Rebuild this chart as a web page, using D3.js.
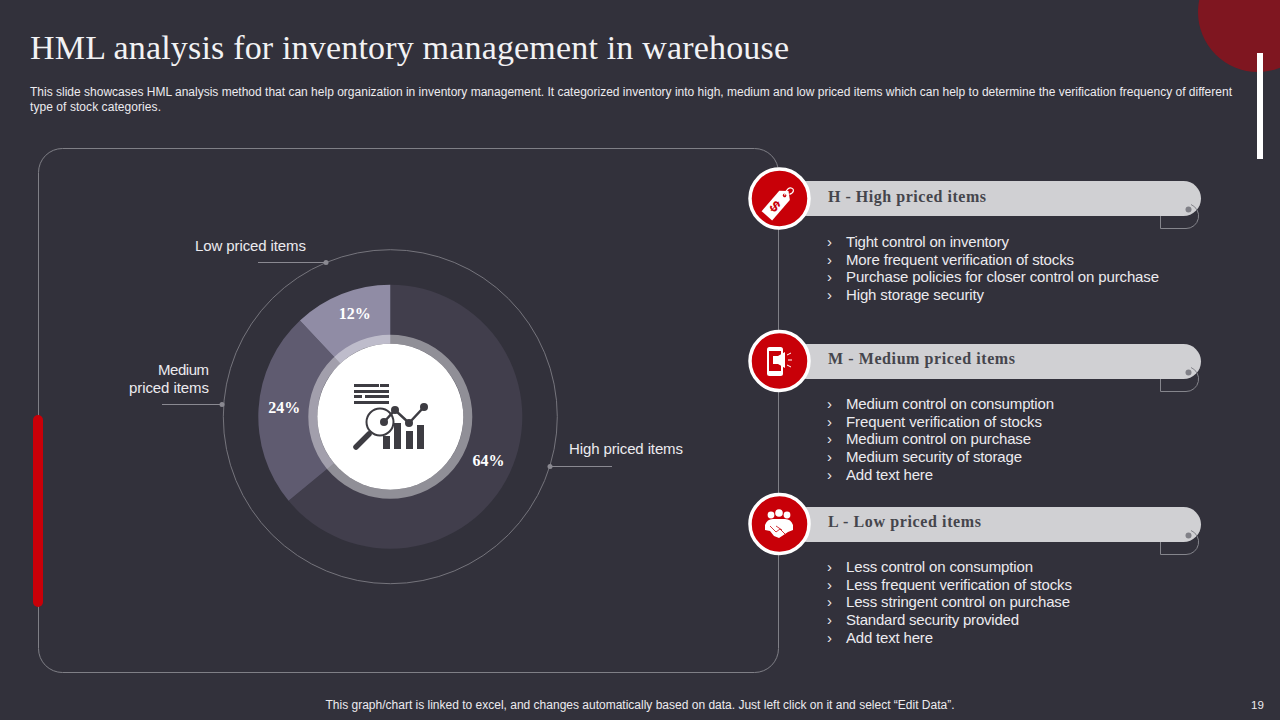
<!DOCTYPE html>
<html><head><meta charset="utf-8">
<style>html,body{margin:0;padding:0;background:#32313b;overflow:hidden}svg{display:block}</style>
<script src="https://cdn.jsdelivr.net/npm/d3@7"></script></head>
<body><svg id="c" width="1280" height="720"></svg>
<script>
const categories = ["High priced items", "Medium priced items", "Low priced items"];
const shareValues = [64, 24, 12];
const sliceColors = ["#413e4c", "#5f5b70", "#908ca5"];
const titleText = "HML analysis for inventory management in warehouse";
const descLines = [
  "This slide showcases HML analysis method that can help organization in inventory management. It categorized inventory into high, medium and low priced items which can help to determine the verification frequency of different",
  "type of stock categories."
];
const footerText = "This graph/chart is linked to excel, and changes automatically based on data. Just left click on it and select \u201cEdit Data\u201d.";
const pageNumber = "19";
const headers = ["H - High priced items", "M - Medium priced items", "L - Low priced items"];
const highList = ["Tight control on inventory", "More frequent verification of stocks", "Purchase policies for closer control on purchase", "High storage security"];
const mediumList = ["Medium control on consumption", "Frequent verification of stocks", "Medium control on purchase", "Medium security of storage", "Add text here"];
const lowList = ["Less control on consumption", "Less frequent verification of stocks", "Less stringent control on purchase", "Standard security provided", "Add text here"];

const SANS = "'Liberation Sans',Arial,sans-serif", SERIF = "'Liberation Serif','Times New Roman',serif";
const RED = "#c80008";
const svg = d3.select("#c");
svg.append("rect").attr("width",1280).attr("height",720).attr("fill","#32313b");

function txt(g,x,y,s,o={}){
  const t=g.append("text").attr("x",x).attr("y",y).text(s)
    .attr("font-family",o.ff||SANS).attr("font-size",o.fs||15).attr("fill",o.fill||"#ecebef")
    .attr("dominant-baseline","central");
  if(o.bold)t.attr("font-weight","bold");
  if(o.anchor)t.attr("text-anchor",o.anchor);
  if(o.w)t.attr("textLength",o.w).attr("lengthAdjust","spacing");
  return t;
}

// corner decoration
svg.append("circle").attr("cx",1258).attr("cy",12).attr("r",60).attr("fill","#7f1620");
svg.append("rect").attr("x",1257).attr("y",53).attr("width",6).attr("height",106).attr("fill","#fff");

// heading
txt(svg,30,47,titleText,{ff:SERIF,fs:34,w:759,fill:"#f2f2f4"});
txt(svg,30,92,descLines[0],{fs:12,w:1202});
txt(svg,30,106.5,descLines[1],{fs:12,w:131});

// panel
svg.append("rect").attr("x",38.5).attr("y",148.5).attr("width",740).attr("height",524).attr("rx",24)
  .attr("fill","none").attr("stroke","#7f7f86").attr("stroke-width",1);
svg.append("rect").attr("x",33).attr("y",415).attr("width",10).attr("height",192).attr("rx",5).attr("fill",RED);

// donut
const cx=390.3, cy=416.7;
const radius = d3.scaleOrdinal().domain(["hub","ringIn","sliceOut","outline"]).range([73,82,132,167]);
const g=svg.append("g").attr("transform",`translate(${cx},${cy})`);
g.append("circle").attr("r",radius("outline")).attr("fill","none").attr("stroke","#75747c").attr("stroke-width",1);
const pie=d3.pie().sort(null).value(d=>d)(shareValues);
const arc=d3.arc().innerRadius(radius("hub")).outerRadius(radius("sliceOut"));
g.selectAll("path.slice").data(pie).join("path").attr("class","slice").attr("d",arc).attr("fill",(d,i)=>sliceColors[i]);
g.append("circle").attr("r",(radius("hub")+radius("ringIn"))/2).attr("fill","none")
  .attr("stroke","rgba(255,255,255,.42)").attr("stroke-width",radius("ringIn")-radius("hub"));
g.append("circle").attr("r",radius("hub")).attr("fill","#fff");

// percentage labels (placed by hand inside each slice: clockwise angle, radius)
const labelPolar=[[1.99,107.4],[4.80,106.4],[5.95,109]];
g.selectAll("text.pct").data(pie).join("text").attr("class","pct")
  .attr("transform",(d,i)=>{const [a,r]=labelPolar[i];return `translate(${r*Math.sin(a)},${-r*Math.cos(a)})`;})
  .attr("text-anchor","middle").attr("dominant-baseline","central")
  .attr("font-family",SERIF).attr("font-weight","bold").attr("font-size",16).attr("fill","#fff")
  .text(d=>d.value+"%");

// callouts
const lead="#8a8991";
function leader(x1,x2,y,dx){
  svg.append("line").attr("x1",x1).attr("x2",x2).attr("y1",y).attr("y2",y).attr("stroke",lead).attr("stroke-width",1);
  svg.append("circle").attr("cx",dx).attr("cy",y).attr("r",2.5).attr("fill",lead);
}
leader(258,326,262.5,326);
leader(162,222,404.5,222);
leader(550,612,466.5,550);
txt(svg,195,245.5,categories[2],{w:111});
txt(svg,158,369.5,"Medium",{w:51});
txt(svg,129,387.5,"priced items",{w:80});
txt(svg,569,448.5,categories[0],{w:114});

// centre icon
const ink="#3d3c42";
const ic=svg.append("g").attr("fill",ink);
[[354,384,25],[380,384,9],[354,390,35],[354,395,8],[365,395,24],[354,401,35]].forEach(r=>
  ic.append("rect").attr("x",r[0]).attr("y",r[1]).attr("width",r[2]).attr("height",3));
[[383,436,7,13],[394,423,7,26],[406,431,7,18],[417,425,7,24]].forEach(r=>
  ic.append("rect").attr("x",r[0]).attr("y",r[1]).attr("width",r[2]).attr("height",r[3]));
ic.append("polyline").attr("points","384,422 395,410 409,423 424,407").attr("fill","none").attr("stroke",ink).attr("stroke-width",2.5);
[[384,422],[395,410],[409,423],[424,407]].forEach(p=>ic.append("circle").attr("cx",p[0]).attr("cy",p[1]).attr("r",4));
ic.append("circle").attr("cx",380).attr("cy",422).attr("r",13.5).attr("fill","none").attr("stroke",ink).attr("stroke-width",2);
ic.append("line").attr("x1",369).attr("y1",434).attr("x2",356).attr("y2",447).attr("stroke",ink).attr("stroke-width",5.5).attr("stroke-linecap","round");

// right column
const rows=[{cy:198.5,top:181,head:196.5,items:highList,y0:241.5},{cy:361,top:344,head:358.5,items:mediumList,y0:403.5},{cy:524,top:507,head:521.5,items:lowList,y0:566.5}];
const itemWidths=[[163,228,313,138],[208,196,185,176,87],[187,226,224,173,87]];
rows.forEach((r,i)=>{
  const b=svg.append("g");
  b.append("rect").attr("x",790).attr("y",r.top).attr("width",411).attr("height",35).attr("rx",17.5).attr("fill","#d0d0d3");
  b.append("path").attr("d",`M1160.5 ${r.top+35}V${r.top+47.5}H1186a12.5 12.5 0 0 0 5-24`).attr("fill","none").attr("stroke","#85858c");
  b.append("circle").attr("cx",1188.5).attr("cy",r.top+28.5).attr("r",3).attr("fill","#808087");
  b.append("circle").attr("cx",779.5).attr("cy",r.cy).attr("r",29.5).attr("fill",RED).attr("stroke","#fff").attr("stroke-width",3.5);
  txt(b,828,r.head,headers[i],{ff:SERIF,bold:true,fs:16,fill:"#45454c",w:[158,187,153][i]});
  r.items.forEach((s,k)=>{
    const y=r.y0+k*17.65;
    txt(b,827,y,"\u203a",{fs:15});
    txt(b,846,y,s,{fs:15,w:itemWidths[i][k]});
  });
});

// row icons
const W="#fff";
const tag=svg.append("g").attr("transform","translate(778,203) rotate(41)").attr("fill",W);
tag.append("path").attr("d","M-7 -10L0 -16L7 -10V17H-7Z");
tag.append("circle").attr("cy",-10).attr("r",1.8).attr("fill",RED);
tag.append("path").attr("d","M0 -10C-7 -22 8 -24 3 -14").attr("fill","none").attr("stroke",W).attr("stroke-width",1.2);
tag.append("text").attr("y",4).attr("text-anchor","middle").attr("dominant-baseline","central").attr("font-family",SANS).attr("font-weight","bold").attr("font-size",15).attr("fill",RED).text("$");
const ph=svg.append("g").attr("fill",W);
ph.append("rect").attr("x",767).attr("y",347).attr("width",16).attr("height",29).attr("rx",2.5);
ph.append("rect").attr("x",769).attr("y",351).attr("width",12).attr("height",20).attr("fill",RED);
ph.append("path").attr("d","M773 356h5l7-4v16l-7-4h-5z");
ph.append("path").attr("d","M787 355l4-2M788 360h4M787 365l4 2").attr("stroke",W).attr("stroke-width",1);
const hs=svg.append("g").attr("fill",W);
[[771,515,3.4],[779,513,3.8],[787,515,3.4]].forEach(p=>hs.append("circle").attr("cx",p[0]).attr("cy",p[1]).attr("r",p[2]));
hs.append("path").attr("d","M765 525q2-6 8-6h12q6 0 8 6v5l-5 2-9 6-5-2-4-5-5-1z");
hs.append("path").attr("d","M770 526l6 6 4-3 6 6M776 526l6 4").attr("fill","none").attr("stroke",RED).attr("stroke-width",.8);

// footer
txt(svg,325.5,705,footerText,{fs:12,w:629});
txt(svg,1251,705,pageNumber,{fs:11.5});
</script></body></html>
